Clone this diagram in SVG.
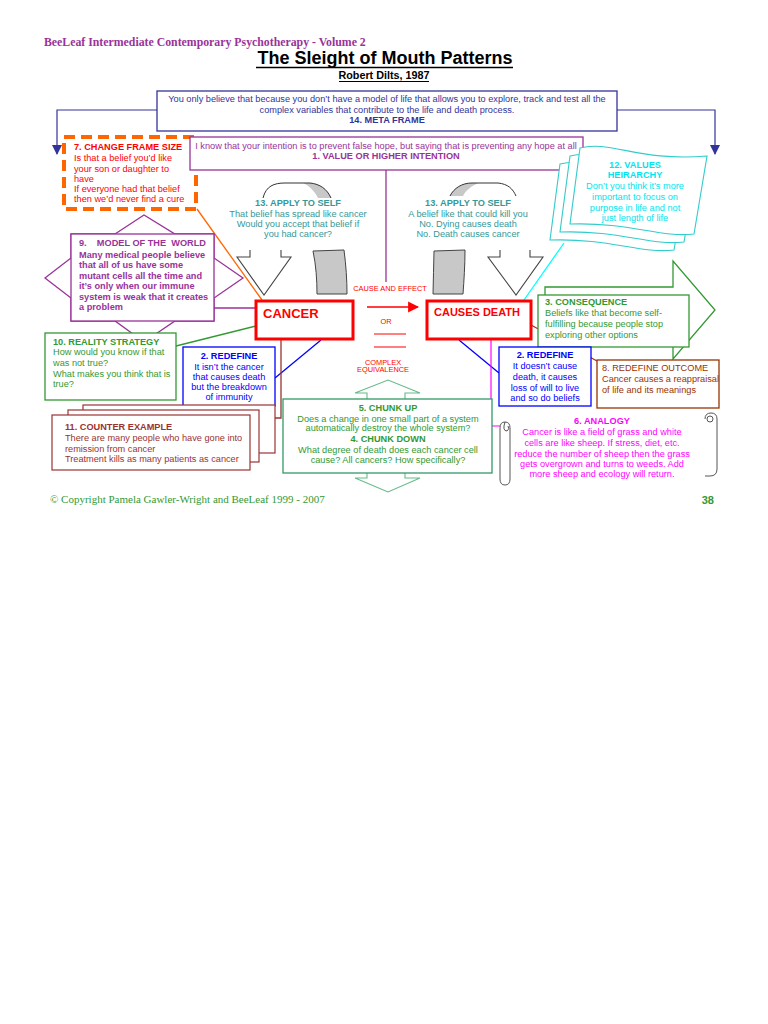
<svg xmlns="http://www.w3.org/2000/svg" width="768" height="1024" viewBox="0 0 768 1024">
<style>
text{font-family:"Liberation Sans",Arial,sans-serif;font-size:9.2px}
.c{text-anchor:middle}
.b{font-weight:bold}
.ser{font-family:"Liberation Serif","Times New Roman",serif}
.box{fill:#fff;stroke-width:1.3}
.sm{font-size:7.4px}
</style>
<defs>
<marker id="ah" viewBox="0 0 10 10" refX="9" refY="5" markerWidth="10" markerHeight="10" markerUnits="userSpaceOnUse" orient="auto"><path d="M0,0 L10,5 L0,10 Z" fill="#333399"/></marker>
<marker id="ar" viewBox="0 0 10 10" refX="9" refY="5" markerWidth="11" markerHeight="12" markerUnits="userSpaceOnUse" orient="auto"><path d="M0,0 L10,5 L0,10 Z" fill="#FF0000"/></marker>
</defs>
<rect width="768" height="1024" fill="#fff"/>

<!-- header -->
<text x="44" y="46" class="ser b" style="font-size:11.8px" fill="#993399">BeeLeaf Intermediate Contemporary Psychotherapy - Volume 2</text>
<text x="385" y="64" class="c b" style="font-size:18px" fill="#000">The Sleight of Mouth Patterns</text>
<line x1="256" y1="67.5" x2="513" y2="67.5" stroke="#000" stroke-width="1.4"/>
<text x="384" y="79" class="c b" style="font-size:10.8px" fill="#000">Robert Dilts, 1987</text>
<line x1="339" y1="81.5" x2="429" y2="81.5" stroke="#000" stroke-width="1"/>

<!-- connectors -->
<g id="connectors" fill="none">
<polyline points="157,110 57,110 57,154" stroke="#333399" stroke-width="1.2" marker-end="url(#ah)"/>
<polyline points="617,110 715,110 715,154" stroke="#333399" stroke-width="1.2" marker-end="url(#ah)"/>
<line x1="386" y1="170" x2="386" y2="282" stroke="#993399" stroke-width="1.3"/>
<line x1="197" y1="209" x2="262" y2="300" stroke="#FF6600" stroke-width="1.3"/>
<line x1="214" y1="308" x2="256" y2="308" stroke="#993399" stroke-width="1.3"/>
<line x1="176" y1="346" x2="256" y2="326" stroke="#339933" stroke-width="1.3"/>
<line x1="275" y1="378" x2="321" y2="340" stroke="#0000FF" stroke-width="1.3"/>
<polyline points="281,340 281,418 275,418" stroke="#993333" stroke-width="1.3"/>
<line x1="564" y1="243" x2="524" y2="300" stroke="#00FFFF" stroke-width="1.3"/>
<line x1="459" y1="340" x2="499" y2="373" stroke="#0000FF" stroke-width="1.3"/>
<polyline points="491,340 491,426 500,426" stroke="#FF00FF" stroke-width="1.2"/>
<line x1="531" y1="325" x2="597" y2="361" stroke="#993333" stroke-width="1.3"/>
</g>

<!-- 14 meta frame -->
<g id="meta-frame">
<rect x="157" y="91" width="460" height="40" class="box" stroke="#333399"/>
<text x="387" y="102" class="c" fill="#333399">You only believe that because you don’t have a model of life that allows you to explore, track and test all the</text>
<text x="387" y="113" class="c" fill="#333399">complex variables that contribute to the life and death process.</text>
<text x="387" y="123" class="c b" fill="#333399">14.  META FRAME</text>
</g>

<!-- 7 change frame size -->
<g id="change-frame-size">
<rect x="64" y="137" width="132" height="72" fill="#fff" stroke="#FF6600" stroke-width="4" stroke-dasharray="11,6"/>
<text x="74" y="150" class="b" fill="#FF0000">7. CHANGE FRAME SIZE</text>
<text x="74" y="161" fill="#FF0000">Is that a belief you’d like</text>
<text x="74" y="172" fill="#FF0000">your son or daughter to</text>
<text x="74" y="182" fill="#FF0000">have</text>
<text x="74" y="192" fill="#FF0000">If everyone had that belief</text>
<text x="74" y="202" fill="#FF0000">then we’d never find a cure</text>
</g>

<!-- 1 value or higher intention -->
<g id="value-intention">
<rect x="190" y="137" width="393" height="33" class="box" stroke="#993399"/>
<text x="386" y="149" class="c" fill="#993399">I know that your intention is to prevent false hope, but saying that is preventing any hope at all</text>
<text x="386" y="159" class="c b" fill="#993399">1. VALUE OR HIGHER INTENTION</text>
</g>

<!-- 13 apply to self (left) -->
<g id="apply-self-left">
<path d="M303,183 L310,183 C320,184 327,189 331,198 L318,198 C315,192 310,186 303,183 Z" fill="#C8C8C8" stroke="none"/>
<path d="M263,198 C266,186 274,183 285,183 L310,183 C320,184 327,189 331,198" fill="none" stroke="#333" stroke-width="1"/>
<path d="M313,251 L344,250 C346,265 347,280 347,294 L317,294 C317,280 316,265 313,251 Z" fill="#C8C8C8" stroke="#444" stroke-width="1"/>
<polyline points="250,250 250,257 237,257 264,295 291,257 281,257 281,250" fill="#fff" stroke="#444" stroke-width="1.1"/>
<text x="298" y="206" class="c b" fill="#339999">13. APPLY TO SELF</text>
<text x="298" y="217" class="c" fill="#339999">That belief has spread like cancer</text>
<text x="298" y="227" class="c" fill="#339999">Would you accept that belief if</text>
<text x="298" y="237" class="c" fill="#339999">you had cancer?</text>
</g>

<!-- 13 apply to self (right) -->
<g id="apply-self-right">
<path d="M450,196 C454,188 462,183 472,183 L478,183 C472,186 466,190 463,196 Z" fill="#C8C8C8" stroke="none"/>
<path d="M450,196 C454,188 462,183 472,183 L498,183 C508,184 513,189 516,196" fill="none" stroke="#333" stroke-width="1"/>
<path d="M434,251 L465,250 C465,265 464,280 463,294 L433,294 C433,280 434,265 434,251 Z" fill="#C8C8C8" stroke="#444" stroke-width="1"/>
<polyline points="500,250 500,257 488,257 516,295 543,257 530,257 530,250" fill="#fff" stroke="#444" stroke-width="1.1"/>
<text x="468" y="206" class="c b" fill="#339999">13. APPLY TO SELF</text>
<text x="468" y="217" class="c" fill="#339999">A belief like that could kill you</text>
<text x="468" y="227" class="c" fill="#339999">No. Dying causes death</text>
<text x="468" y="237" class="c" fill="#339999">No. Death causes cancer</text>
</g>

<!-- 12 values hierarchy -->
<g id="values-hierarchy" fill="#fff" stroke="#33CCCC" stroke-width="1.1">
<path d="M560,164 C590,156 620,178 687,172 L674,250 C640,254 610,238 550,240 Z"/>
<path d="M570,156 C600,148 630,170 697,164 L684,242 C650,246 620,230 560,232 Z"/>
<path d="M580,148 C610,140 640,162 707,156 L694,234 C660,238 630,222 570,224 Z"/>
<g stroke="none" fill="#00E5EE">
<text x="635" y="168" class="c b">12. VALUES</text>
<text x="635" y="178" class="c b">HEIRARCHY</text>
<text x="635" y="189" class="c">Don’t you think it’s more</text>
<text x="635" y="200" class="c">important to focus on</text>
<text x="635" y="211" class="c">purpose in life and not</text>
<text x="635" y="221" class="c">just length of life</text>
</g>
</g>

<!-- 9 model of the world -->
<g id="model-of-world">
<polygon points="115,234 144,215 175,234 214,234 214,258 243,278 214,298 214,321 175,321 144,342 115,321 71,321 71,298 45,278 71,258 71,234" fill="#fff" stroke="#993399" stroke-width="1.3"/>
<rect x="71" y="234" width="143" height="87" fill="#fff" stroke="#993399" stroke-width="1.3"/>
<g fill="#993399">
<text x="79" y="246" class="b" style="white-space:pre">9.    MODEL OF THE  WORLD</text>
<text x="79" y="258" class="b">Many medical people believe</text>
<text x="79" y="268" class="b">that all of us have some</text>
<text x="79" y="279" class="b">mutant cells all the time and</text>
<text x="79" y="289" class="b">it’s only when our immune</text>
<text x="79" y="300" class="b">system is weak that it creates</text>
<text x="79" y="310" class="b">a problem</text>
</g>
</g>

<!-- cancer -->
<g id="cancer">
<rect x="256" y="301" width="97" height="38" fill="#fff" stroke="#FF0000" stroke-width="3"/>
<text x="263" y="318" class="b" style="font-size:13px" fill="#FF0000">CANCER</text>
</g>

<!-- cause and effect / complex equivalence -->
<g id="relation">
<text x="390" y="291" class="c sm" fill="#FF0000">CAUSE AND EFFECT</text>
<line x1="367" y1="307" x2="418" y2="307" stroke="#FF0000" stroke-width="1.5" marker-end="url(#ar)"/>
<text x="386" y="324" class="c sm" fill="#FF0000">OR</text>
<line x1="374" y1="334" x2="406" y2="334" stroke="#FF0000" stroke-width="1"/>
<line x1="374" y1="347" x2="406" y2="347" stroke="#FF0000" stroke-width="1"/>
<text x="383" y="364.5" class="c sm" fill="#FF0000">COMPLEX</text>
<text x="383" y="372" class="c sm" fill="#FF0000">EQUIVALENCE</text>
</g>

<!-- causes death -->
<g id="causes-death">
<rect x="427" y="301" width="104" height="38" fill="#fff" stroke="#FF0000" stroke-width="3"/>
<text x="434" y="316" class="b" style="font-size:11px" fill="#FF0000">CAUSES DEATH</text>
</g>

<!-- 3 consequence -->
<g id="consequence">
<polygon points="545,287 673,287 673,261 715,310 673,359 673,333 545,333" fill="#fff" stroke="#339933" stroke-width="1.3"/>
<rect x="538" y="295" width="151" height="52" class="box" stroke="#339933"/>
<text x="545" y="305" class="b" fill="#339933">3. CONSEQUENCE</text>
<text x="545" y="316" fill="#339933">Beliefs like that become self-</text>
<text x="545" y="327" fill="#339933">fulfilling because people stop</text>
<text x="545" y="338" fill="#339933">exploring other options</text>
</g>

<!-- 10 reality strategy -->
<g id="reality-strategy">
<rect x="45" y="333" width="131" height="67" class="box" stroke="#339933"/>
<text x="53" y="345" class="b" fill="#339933">10. REALITY STRATEGY</text>
<text x="53" y="355" fill="#339933">How would you know if that</text>
<text x="53" y="366" fill="#339933">was not true?</text>
<text x="53" y="377" fill="#339933">What makes you think that is</text>
<text x="53" y="387" fill="#339933">true?</text>
</g>

<!-- 2 redefine left -->
<g id="redefine-left">
<rect x="183" y="347" width="92" height="59" class="box" stroke="#0000FF"/>
<text x="229" y="359" class="c b" fill="#0000FF">2. REDEFINE</text>
<text x="229" y="370" class="c" fill="#0000FF">It isn’t the cancer</text>
<text x="229" y="380" class="c" fill="#0000FF">that causes death</text>
<text x="229" y="390" class="c" fill="#0000FF">but the breakdown</text>
<text x="229" y="400" class="c" fill="#0000FF">of immunity</text>
</g>

<!-- 2 redefine right -->
<g id="redefine-right">
<rect x="499" y="347" width="92" height="59" class="box" stroke="#0000FF"/>
<text x="545" y="358" class="c b" fill="#0000FF">2. REDEFINE</text>
<text x="545" y="369" class="c" fill="#0000FF">It doesn’t cause</text>
<text x="545" y="380" class="c" fill="#0000FF">death, it causes</text>
<text x="545" y="391" class="c" fill="#0000FF">loss of will to live</text>
<text x="545" y="401" class="c" fill="#0000FF">and so do beliefs</text>
</g>

<!-- 8 redefine outcome -->
<g id="redefine-outcome">
<rect x="597" y="360" width="122" height="48" class="box" stroke="#993300"/>
<text x="602" y="371" fill="#993300">8. REDEFINE OUTCOME</text>
<text x="602" y="382" fill="#993300">Cancer causes a reappraisal</text>
<text x="602" y="393" fill="#993300">of life and its meanings</text>
</g>

<!-- 11 counter example -->
<g id="counter-example" fill="#fff" stroke="#993333" stroke-width="1.2">
<rect x="83" y="405" width="192" height="48"/>
<rect x="68" y="410" width="191" height="52"/>
<rect x="52" y="415" width="198" height="55"/>
<g stroke="none" fill="#993333">
<text x="65" y="430" class="b">11. COUNTER EXAMPLE</text>
<text x="65" y="441">There are many people who have gone into</text>
<text x="65" y="452">remission from cancer</text>
<text x="65" y="462">Treatment kills as many patients as cancer</text>
</g>
</g>

<!-- 5/4 chunk up / down -->
<g id="chunk">
<polyline points="367,399 367,393 355,393 388,380 420,393 405,393 405,399" fill="#fff" stroke="#66BB88" stroke-width="1.1"/>
<polyline points="367,473 367,478 355,478 388,492 420,478 405,478 405,473" fill="#fff" stroke="#66BB88" stroke-width="1.1"/>
<rect x="283" y="399" width="209" height="74" class="box" stroke="#339966"/>
<text x="388" y="411" class="c b" fill="#339933">5. CHUNK UP</text>
<text x="388" y="422" class="c" fill="#339933">Does a change in one small part of a system</text>
<text x="388" y="431" class="c" fill="#339933">automatically destroy the whole system?</text>
<text x="388" y="442" class="c b" fill="#339933">4. CHUNK DOWN</text>
<text x="388" y="453" class="c" fill="#339933">What degree of death does each cancer cell</text>
<text x="388" y="463" class="c" fill="#339933">cause? All cancers? How specifically?</text>
</g>

<!-- 6 analogy -->
<g id="analogy">
<path d="M500,428 Q500,422 505,422 Q510,422 510,428 L510,479 Q510,485 505,485 Q500,485 500,479 Z" fill="#fff" stroke="#555" stroke-width="1"/>
<path d="M505,422 Q502,431 507,431 Q510,429 508,426" fill="none" stroke="#555" stroke-width="1"/>
<path d="M705,419 Q705,413 711,413 Q717,413 717,419 L717,469 Q717,476 710,476 L705,476" fill="#fff" stroke="#555" stroke-width="1"/>
<circle cx="710" cy="419" r="3" fill="#fff" stroke="#555" stroke-width="1"/>
<text x="602" y="424" class="c b" fill="#FF00FF">6. ANALOGY</text>
<text x="602" y="435" class="c" fill="#FF00FF">Cancer is like a field of grass and white</text>
<text x="602" y="446" class="c" fill="#FF00FF">cells are like sheep.  If stress, diet, etc.</text>
<text x="602" y="457" class="c" fill="#FF00FF">reduce the number of sheep then the grass</text>
<text x="602" y="467" class="c" fill="#FF00FF">gets overgrown and turns to weeds. Add</text>
<text x="602" y="477" class="c" fill="#FF00FF">more sheep and ecology will return.</text>
</g>

<!-- footer -->
<text x="50" y="503" class="ser" style="font-size:11px" fill="#339933">© Copyright Pamela Gawler-Wright and BeeLeaf 1999 - 2007</text>
<text x="714" y="504" class="b" style="font-size:11px;text-anchor:end" fill="#339933">38</text>
</svg>
